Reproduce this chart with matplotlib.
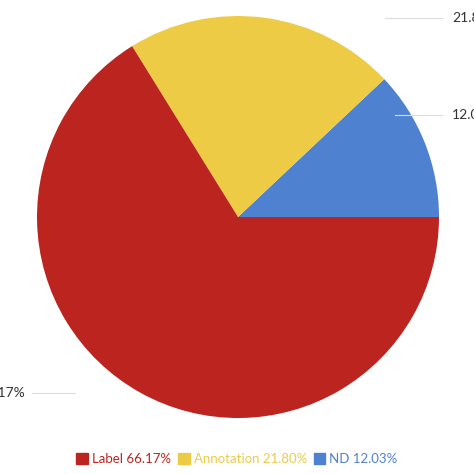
import matplotlib
matplotlib.use("Agg")
import matplotlib.pyplot as plt

categories = ["Label", "Annotation", "ND"]
values = [66.17, 21.80, 12.03]
colors = ["#BC2420", "#EDCB45", "#4F81D1"]

plt.rcParams['font.family'] = ['Lato', 'DejaVu Sans']
fig = plt.figure(figsize=(4.74, 4.74), dpi=100)
ax = fig.add_axes([0, 0, 1, 1])
ax.set_xlim(0, 474); ax.set_ylim(0, 474); ax.set_aspect('equal'); ax.axis('off')

order = [2, 1, 0]
ax.pie([values[i] for i in order], colors=[colors[i] for i in order],
       startangle=0, counterclock=True, center=(238, 257), radius=201,
       wedgeprops=dict(linewidth=0))
ax.set_xlim(0, 474); ax.set_ylim(0, 474)

lbl = {c: f"{v:.2f}%" for c, v in zip(categories, values)}
ax.plot([385, 442], [456, 456], color="#dddddd", lw=0.8)
ax.text(452, 456, lbl["Annotation"], fontsize=10, color="#333333", va='center', clip_on=False)
ax.plot([395, 442], [359, 359], color="#dddddd", lw=0.8)
ax.text(452, 359, lbl["ND"], fontsize=10, color="#333333", va='center', clip_on=False)
ax.plot([32, 75], [81, 81], color="#dddddd", lw=0.8)
ax.text(25, 81, lbl["Label"], fontsize=10, color="#333333", va='center', ha='right', clip_on=False)

handles = [plt.Rectangle((0, 0), 1, 1, color=c) for c in colors]
leg = ax.legend(handles, [f"{c} {lbl[c]}" for c in categories], loc='center',
                bbox_to_anchor=(0.5, 15 / 474), ncol=3, frameon=False, fontsize=9.5,
                handlelength=0.9, handleheight=0.9, handletextpad=0.3, columnspacing=0.5)
for t, c in zip(leg.get_texts(), colors):
    t.set_color(c)
fig.savefig("out.png", dpi=100)
